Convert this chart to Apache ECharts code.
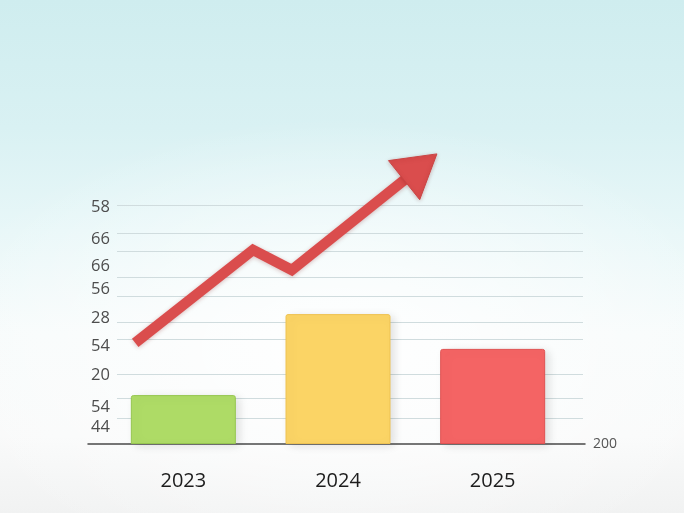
<!DOCTYPE html>
<html>
<head>
<meta charset="utf-8">
<script src="https://cdn.jsdelivr.net/npm/echarts@6/dist/echarts.min.js"></script>
<style>
html,body{margin:0;padding:0;width:684px;height:513px;overflow:hidden;}
body{
  background:
    radial-gradient(ellipse 60% 45% at 50% 68%, rgba(255,255,255,0.95) 0%, rgba(255,255,255,0) 100%),
    linear-gradient(to bottom, #cfedef 0%, #d9f1f3 25%, #e8f7f8 45%, #f7fbfb 65%, #f9fafa 85%, #f1f2f2 100%);
}
#chart{width:684px;height:513px;}
</style>
</head>
<body>
<div id="chart"></div>
<script>
// ---- data ----
const categories = ['2023', '2024', '2025'];
const barValues = [16.3, 43.3, 31.7];
const barColors = ['#aedb66', '#fbd465', '#f46464'];
const barBorders = ['#96c650', '#eec252', '#e05252'];
const tickLabels = ['58', '66', '66', '56', '28', '54', '20', '54', '44'];
const tickValues = [79, 68.3, 59.3, 51.7, 42, 32.7, 23, 12.3, 5.7];
const gridValues = [79.7, 70.3, 64.3, 55.7, 49.3, 40.7, 35, 23.3, 15.3, 8.7];
const trendX = [9.5, 33.2, 41.0, 70.2];
const trendY = [33.7, 64.7, 58.0, 96.7];
const axisEndLabel = '200';

const chart = echarts.init(document.getElementById('chart'), null, {renderer: 'canvas'});

const option = {
  backgroundColor: 'transparent',
  animation: false,
  grid: [
    {left: 106, right: 114, top: 144, bottom: 69},
    {left: 88, right: 99, top: 144, bottom: 69}
  ],
  xAxis: [
    {
      type: 'category', gridIndex: 0, data: categories,
      axisLine: {show: false}, axisTick: {show: false},
      axisLabel: {margin: 27, fontSize: 20, color: '#1c1c1c', fontFamily: 'Open Sans'}
    },
    {
      type: 'value', gridIndex: 1, min: 0, max: 100,
      axisLine: {show: true, lineStyle: {color: '#4a4a4a', width: 1.5}},
      axisTick: {show: false}, axisLabel: {show: false}, splitLine: {show: false},
      name: axisEndLabel, nameLocation: 'end', nameGap: 8,
      nameTextStyle: {color: '#555', fontSize: 14, fontFamily: 'Open Sans', verticalAlign: 'middle'}
    }
  ],
  yAxis: [
    {type: 'value', gridIndex: 0, min: 0, max: 100, show: false},
    {type: 'value', gridIndex: 1, min: 0, max: 100, show: false}
  ],
  series: [
    {
      type: 'custom', xAxisIndex: 1, yAxisIndex: 1, z: 1,
      data: gridValues.map(v => [0, v]),
      renderItem: function (params, api) {
        const cs = params.coordSys;
        const y = Math.round(api.coord([0, api.value(1)])[1]) + 0.5;
        return {type: 'line', shape: {x1: cs.x + 29, y1: y, x2: cs.x + cs.width - 2, y2: y},
          style: {stroke: '#d0dcde', lineWidth: 1}};
      }
    },
    {
      type: 'custom', xAxisIndex: 1, yAxisIndex: 1, z: 2,
      data: tickValues.map((v, i) => [0, v, i]),
      renderItem: function (params, api) {
        const cs = params.coordSys;
        const y = api.coord([0, api.value(1)])[1];
        return {type: 'text', x: cs.x + 3, y: y,
          style: {text: tickLabels[params.dataIndex], fill: '#4d4d4d', fontSize: 16.5,
            fontFamily: 'Open Sans', align: 'left', verticalAlign: 'middle'}};
      }
    },
    {
      type: 'bar', xAxisIndex: 0, yAxisIndex: 0, z: 3,
      barWidth: 105,
      data: barValues.map((v, i) => ({
        value: v,
        itemStyle: {color: barColors[i], borderColor: barBorders[i], borderWidth: 1,
          borderRadius: [2, 2, 0, 0], shadowBlur: 10, shadowColor: 'rgba(0,0,0,0.12)', shadowOffsetX: 4, shadowOffsetY: 2}
      }))
    },
    {
      type: 'custom', xAxisIndex: 1, yAxisIndex: 1, z: 4,
      data: [[trendX[0], trendY[0]]],
      renderItem: function (params, api) {
        const pts = trendX.map((x, i) => api.coord([x, trendY[i]]));
        const tip = pts[pts.length - 1];
        const prev = pts[pts.length - 2];
        let dx = tip[0] - prev[0], dy = tip[1] - prev[1];
        const len = Math.sqrt(dx * dx + dy * dy);
        dx /= len; dy /= len;
        const headLen = 42, headHalf = 25;
        const base = [tip[0] - dx * headLen, tip[1] - dy * headLen];
        const px = -dy, py = dx;
        const shaft = pts.slice(0, pts.length - 1).concat([[base[0] + dx * 2, base[1] + dy * 2]]);
        const color = '#da4d4d';
        return {
          type: 'group',
          children: [
            {type: 'polyline', shape: {points: shaft},
              style: {stroke: color, lineWidth: 10.5, fill: null, lineJoin: 'miter', lineCap: 'butt',
                shadowBlur: 4, shadowColor: 'rgba(120,0,0,0.25)', shadowOffsetY: 1}},
            {type: 'polygon', shape: {points: [tip,
                [base[0] + px * headHalf, base[1] + py * headHalf],
                [base[0] - px * headHalf, base[1] - py * headHalf]]},
              style: {fill: color, stroke: '#c94444', lineWidth: 1,
                shadowBlur: 4, shadowColor: 'rgba(120,0,0,0.25)', shadowOffsetY: 1}}
          ]
        };
      }
    }
  ]
};
chart.setOption(option);
</script>
</body>
</html>
